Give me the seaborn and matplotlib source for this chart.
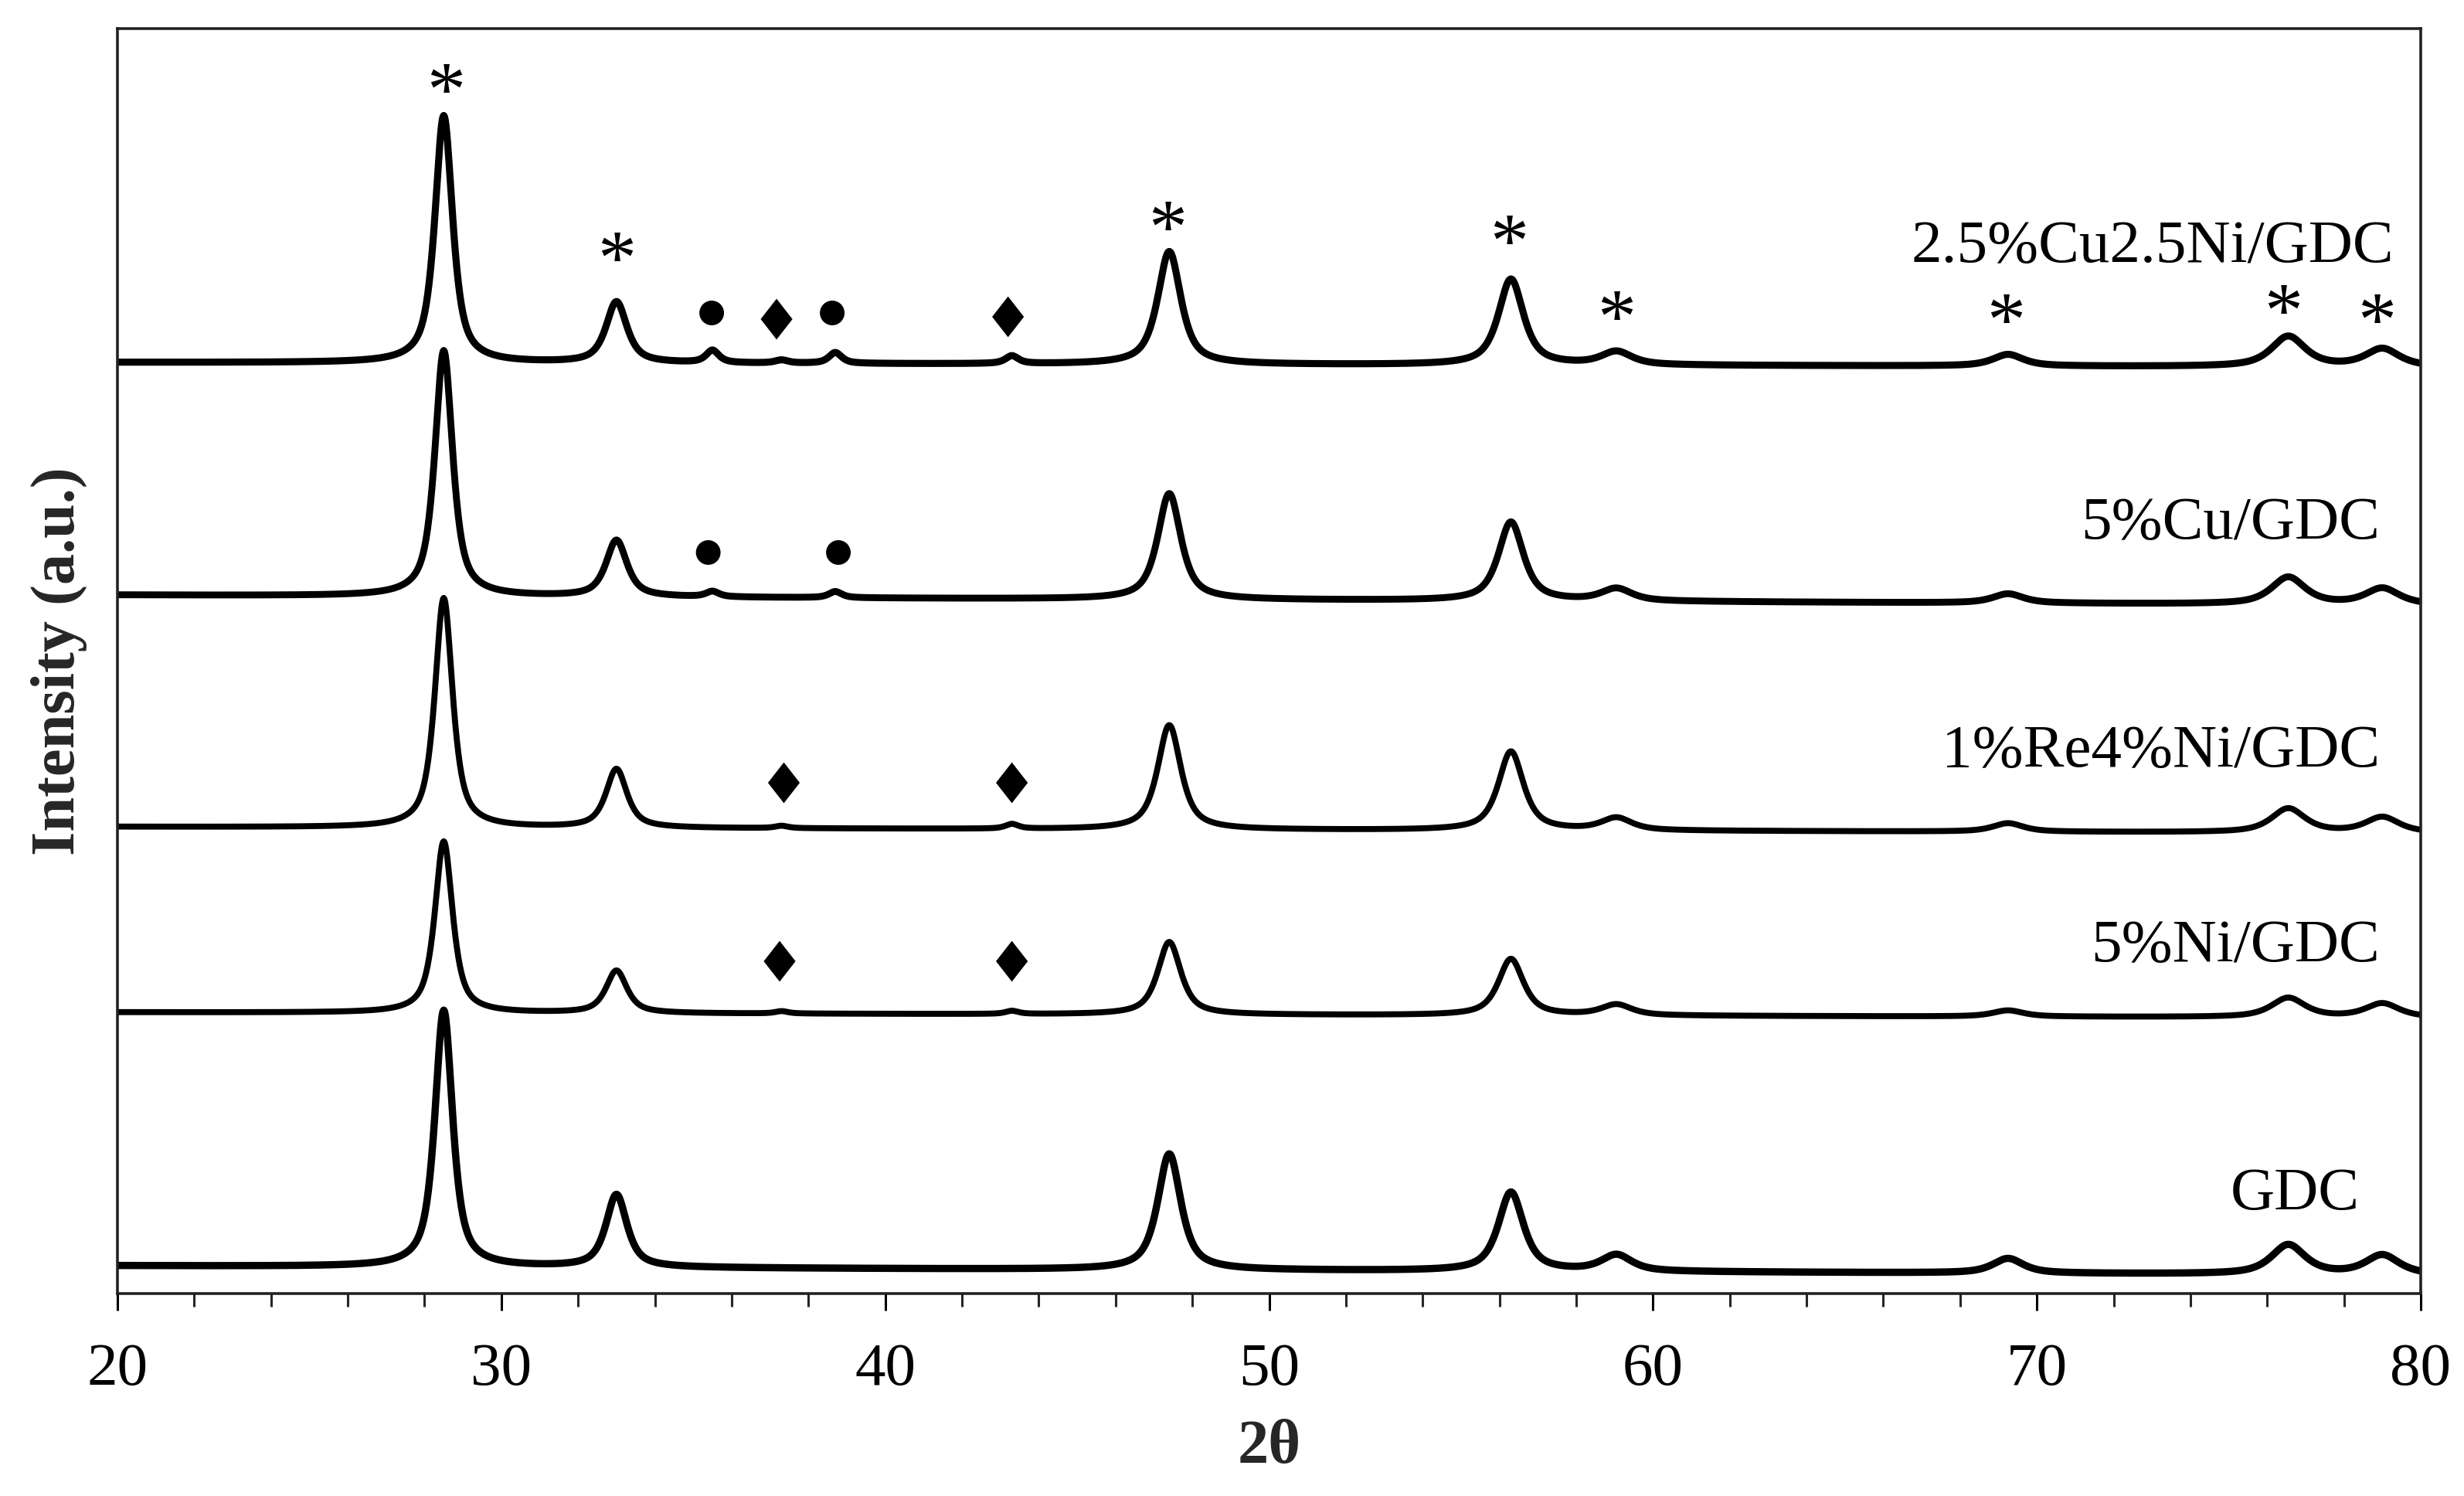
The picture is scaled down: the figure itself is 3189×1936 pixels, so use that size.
import numpy as np
import pandas as pd
import matplotlib
matplotlib.use("Agg")
import matplotlib.pyplot as plt
from matplotlib.ticker import MultipleLocator
import seaborn as sns

# --- Reflections (2theta, degrees) ---
CEO2_POS = [28.5, 33.0, 47.4, 56.3, 59.05, 69.25, 76.55, 79.0]
CEO2_FWHM = [0.55, 0.65, 0.72, 0.78, 0.95, 0.95, 1.05, 1.05]
CUO_POS = [35.5, 38.7]
NIO_POS = [37.3, 43.3]
MINOR_FWHM = 0.40

# --- Samples, stacked from bottom to top ---
SAMPLES = ["GDC", "5%Ni/GDC", "1%Re4%Ni/GDC", "5%Cu/GDC", "2.5%Cu2.5Ni/GDC"]
BASE_LEFT = [36, 364, 604, 904, 1205]
BASE_RIGHT = [24, 357, 596, 891, 1199]
LINE_WIDTH = [3.4, 2.8, 2.8, 3.2, 3.3]

# peak heights above baseline (a.u.), CeO2 reflections
GDC_CEO2 = [332, 94, 150, 102, 21, 19, 38, 25]
NI_CEO2 = [222, 55, 94, 73, 14, 8, 25, 18]
RENI_CEO2 = [297, 76, 135, 102, 16, 11, 31, 20]
CU_CEO2 = [318, 73, 137, 102, 16, 12, 35, 21]
CUNI_CEO2 = [320, 79, 146, 111, 17, 15, 39, 23]

# CuO and NiO reflections
GDC_CUO = [0, 0]
NI_CUO = [0, 0]
RENI_CUO = [0, 0]
CU_CUO = [7, 8]
CUNI_CUO = [16, 14]
GDC_NIO = [0, 0]
NI_NIO = [3, 4]
RENI_NIO = [3, 6]
CU_NIO = [0, 0]
CUNI_NIO = [4, 10]

# --- Phase markers ---
STAR_X = [28.55, 33.0, 47.35, 56.26, 59.05, 69.2, 76.42, 78.86]
STAR_Y = [1560, 1343, 1383, 1365, 1267, 1262, 1274, 1262]
CIRCLE_X = [35.48, 38.62, 35.39, 38.78]
CIRCLE_Y = [1269, 1269, 959, 959]
DIAMOND_X = [37.17, 43.2, 37.36, 43.3, 37.25, 43.3]
DIAMOND_Y = [1261, 1264, 661, 661, 430, 430]

# --- Sample labels ---
LABEL_X = [78.41, 78.94, 78.94, 78.94, 79.30]
LABEL_Y = [128, 449, 701, 996, 1354]


def pseudo_voigt(x, pos, height, fwhm, eta=0.75):
    g = np.exp(-4 * np.log(2) * ((x - pos) / fwhm) ** 2)
    lor = 1.0 / (1.0 + 4 * ((x - pos) / fwhm) ** 2)
    return height * (eta * lor + (1 - eta) * g)


def build_pattern(x, base_l, base_r, ceo2, cuo, nio):
    y = base_l + (base_r - base_l) * (x - x[0]) / (x[-1] - x[0])
    for p, h, w in zip(CEO2_POS, ceo2, CEO2_FWHM):
        y = y + pseudo_voigt(x, p, h, w)
    for p, h in zip(CUO_POS, cuo):
        y = y + pseudo_voigt(x, p, h, MINOR_FWHM)
    for p, h in zip(NIO_POS, nio):
        y = y + pseudo_voigt(x, p, h, MINOR_FWHM)
    return y


def main():
    two_theta = np.arange(20.0, 80.0001, 0.02)
    ceo2_sets = [GDC_CEO2, NI_CEO2, RENI_CEO2, CU_CEO2, CUNI_CEO2]
    cuo_sets = [GDC_CUO, NI_CUO, RENI_CUO, CU_CUO, CUNI_CUO]
    nio_sets = [GDC_NIO, NI_NIO, RENI_NIO, CU_NIO, CUNI_NIO]

    frames = []
    for i, name in enumerate(SAMPLES):
        y = build_pattern(two_theta, BASE_LEFT[i], BASE_RIGHT[i],
                          ceo2_sets[i], cuo_sets[i], nio_sets[i])
        frames.append(pd.DataFrame({"two_theta": two_theta, "intensity": y, "sample": name}))
    df = pd.concat(frames, ignore_index=True)

    sns.set_style("ticks")
    plt.rcParams["font.family"] = ["Liberation Serif", "DejaVu Serif"]

    fig = plt.figure(figsize=(15.945, 9.68), dpi=200)
    ax = fig.add_axes([152 / 3189, 1 - 1674 / 1936, (3133 - 152) / 3189, (1674 - 37) / 1936])

    sns.lineplot(data=df, x="two_theta", y="intensity", size="sample",
                 sizes=dict(zip(SAMPLES, LINE_WIDTH)), estimator=None,
                 color="black", ax=ax, legend=False)

    # phase markers
    for sx, sy in zip(STAR_X, STAR_Y):
        ax.text(sx, sy, "*", fontsize=36, ha="center", va="center_baseline", color="black")
    sns.scatterplot(x=CIRCLE_X, y=CIRCLE_Y, marker="o", s=132, color="black",
                    edgecolor="none", linewidth=0, ax=ax, legend=False)
    diamond = [(0, 1), (0.78, 0), (0, -1), (-0.78, 0), (0, 1)]
    sns.scatterplot(x=DIAMOND_X, y=DIAMOND_Y, marker=diamond, s=361, color="black",
                    edgecolor="none", linewidth=0, ax=ax, legend=False)

    # sample labels
    for name, lx, ly in zip(SAMPLES, LABEL_X, LABEL_Y):
        ax.text(lx, ly, name, fontsize=28.5, ha="right", va="center", color="black")

    ax.set_xlim(20, 80)
    ax.set_ylim(0, 1637)
    ax.set_yticks([])
    ax.xaxis.set_major_locator(MultipleLocator(10))
    ax.xaxis.set_minor_locator(MultipleLocator(2))
    ax.tick_params(axis="x", which="major", direction="out", length=8, width=1.1,
                   labelsize=28.5, pad=15, colors="black")
    ax.tick_params(axis="x", which="minor", direction="out", length=6, width=1.1)
    for side in ["left", "right", "top", "bottom"]:
        ax.spines[side].set_visible(True)
        ax.spines[side].set_linewidth(1.3)
        ax.spines[side].set_color("#222222")

    ax.set_xlabel("2θ", fontsize=29, fontweight="bold", labelpad=10)
    ax.set_ylabel("Intensity (a.u.)", fontsize=29, fontweight="bold", labelpad=14)

    fig.savefig("out.png", dpi=200, facecolor="white")


if __name__ == "__main__":
    main()
